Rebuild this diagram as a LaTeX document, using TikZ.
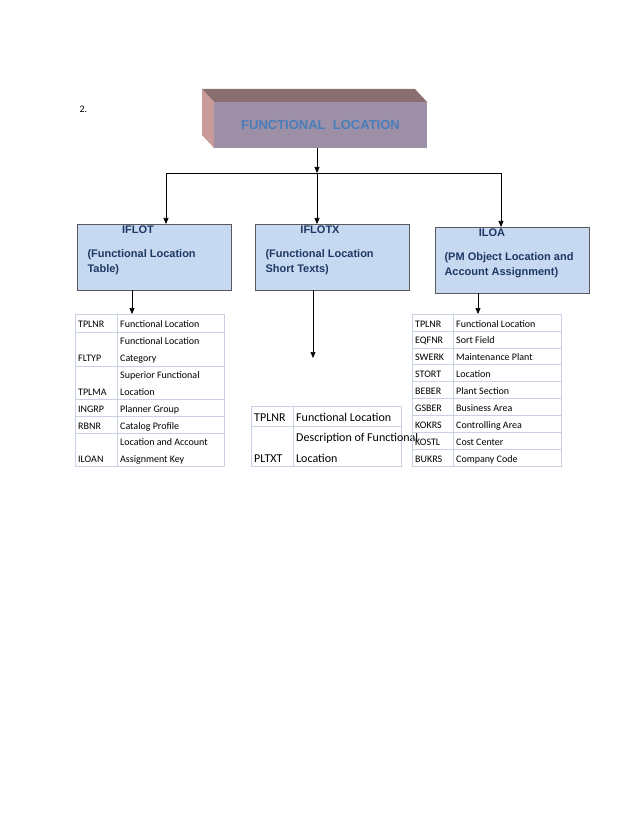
\documentclass[tikz,border=0pt]{standalone}
\usepackage{fontspec}
\setmainfont{Carlito}
\newfontfamily\arialf{Liberation Sans}
\usetikzlibrary{arrows.meta}
\definecolor{boxfill}{HTML}{C6D9F1}
\definecolor{boxtext}{HTML}{1F3864}
\definecolor{grid}{HTML}{C8D2E2}
\begin{document}
\begin{tikzpicture}[x=1pt,y=-1pt,
  hdr/.style={draw=black!65,fill=boxfill,line width=0.8pt,minimum width=154pt,minimum height=66pt,inner sep=0},
  ttl/.style={font=\arialf\bfseries\fontsize{11}{13}\selectfont,text=boxtext},
  sub/.style={font=\arialf\bfseries\fontsize{11}{15}\selectfont,text=boxtext,align=left,anchor=north west},
  arr/.style={-{Triangle[width=5pt,length=6pt]},line width=0.7pt},
  cell/.style={font=\fontsize{10}{16.8}\selectfont,anchor=base west,inner sep=0},
  bigcell/.style={font=\fontsize{12}{20}\selectfont,anchor=base west,inner sep=0},
  gl/.style={draw=grid,line width=0.6pt}]
\useasboundingbox (0,0) rectangle (638,826);
\node[font=\fontsize{10}{12}\selectfont,anchor=base west] (num) at (76,113) {2.};
% 3D box
\fill[fill={rgb,255:red,139;green,111;blue,112}] (202,89) -- (415,89) -- (427,102) -- (214,102) -- cycle;
\fill[fill={rgb,255:red,201;green,154;blue,154}] (202,89) -- (214,102) -- (214,148) -- (202,135) -- cycle;
\node[fill={rgb,255:red,156;green,143;blue,166},minimum width=213pt,minimum height=46pt,inner sep=0,font=\arialf\bfseries\fontsize{13}{15}\selectfont,text={rgb,255:red,74;green,126;blue,187}] (fl) at (320.5,125) {FUNCTIONAL\ \ LOCATION};
% header boxes
\node[hdr] (b1) at (154,257) {};
\node[hdr] (b2) at (332,257) {};
\node[hdr] (b3) at (512,260) {};
\node[ttl] (t1) at (138,230) {IFLOT};
\node[ttl] (t2) at (320,230) {IFLOTX};
\node[ttl] (t3) at (492,233) {ILOA};
\node[sub] (s1) at (84,246) {(Functional Location\\Table)};
\node[sub] (s2) at (262,246) {(Functional Location\\Short Texts)};
\node[sub] (s3) at (441,249) {(PM Object Location and\\Account Assignment)};
% connectors
\coordinate (j) at (317,173);
\draw[arr] (fl.south -| j) -- (j);
\draw[line width=0.7pt] (166,173) -- (501,173);
\draw[arr] (166,173) -- (166,224);
\draw[arr] (317,173) -- (317,224);
\draw[arr] (501,173) -- (501,227);
\coordinate (e1) at (132,314);
\coordinate (e2) at (313,358);
\coordinate (e3) at (478,314);
\draw[arr] (b1.south -| e1) -- (e1);
\draw[arr] (b2.south -| e2) -- (e2);
\draw[arr] (b3.south -| e3) -- (e3);
% left table
\draw[gl] (75,314) rectangle (224,466);
\draw[gl] (117,314) -- (117,466);
\foreach \y in {332,366,399,416,433} \draw[gl] (75,\y) -- (224,\y);
\node[cell] (l1a) at (78,327) {TPLNR};   \node[cell] (l1b) at (120,327) {Functional Location};
\node[cell] (l2c) at (120,344) {Functional Location};
\node[cell] (l2a) at (78,361) {FLTYP};   \node[cell] (l2b) at (120,361) {Category};
\node[cell] (l3c) at (120,378) {Superior Functional};
\node[cell] (l3a) at (78,395) {TPLMA};   \node[cell] (l3b) at (120,395) {Location};
\node[cell] (l4a) at (78,412) {INGRP};   \node[cell] (l4b) at (120,412) {Planner Group};
\node[cell] (l5a) at (78,429) {RBNR};    \node[cell] (l5b) at (120,429) {Catalog Profile};
\node[cell] (l6c) at (120,445) {Location and Account};
\node[cell] (l6a) at (78,462) {ILOAN};   \node[cell] (l6b) at (120,462) {Assignment Key};
% middle table
\draw[gl] (251,406) rectangle (401,466);
\draw[gl] (293,406) -- (293,466);
\draw[gl] (251,426) -- (401,426);
\node[bigcell] (m1a) at (254,421) {TPLNR}; \node[bigcell] (m1b) at (296,421) {Functional Location};
\node[bigcell] (m2c) at (296,441) {Description of Functional};
\node[bigcell] (m2a) at (254,462) {PLTXT}; \node[bigcell] (m2b) at (296,462) {Location};
% right table
\draw[gl] (412,314) rectangle (561,466);
\draw[gl] (453,314) -- (453,466);
\foreach \i in {1,...,8} \draw[gl] (412,{314+\i*16.9}) -- (561,{314+\i*16.9});
\foreach \k/\v [count=\i from 0] in {TPLNR/Functional Location,EQFNR/Sort Field,SWERK/Maintenance Plant,STORT/Location,BEBER/Plant Section,GSBER/Business Area,KOKRS/Controlling Area,KOSTL/Cost Center,BUKRS/Company Code}{
  \node[cell] (rk\i) at (415,{327+\i*16.9}) {\k};
  \node[cell] (rv\i) at (456,{327+\i*16.9}) {\v};
}
\end{tikzpicture}
\end{document}
